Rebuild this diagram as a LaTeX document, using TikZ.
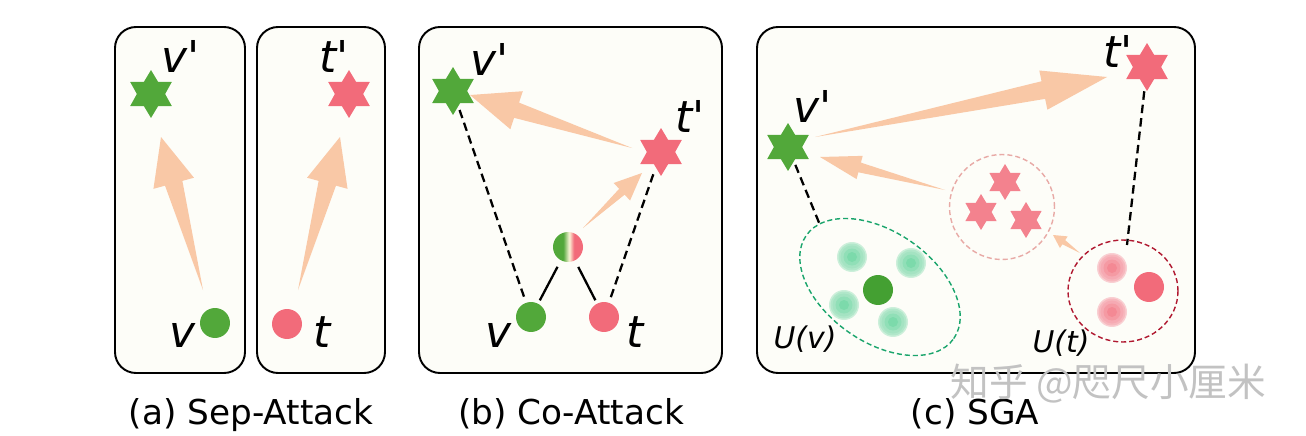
\documentclass[tikz,border=0pt]{standalone}
\usepackage{fontspec}
\setmainfont{DejaVu Sans}
\newfontfamily\cjk{Noto Sans CJK SC}
\usetikzlibrary{calc,shapes.geometric}
\definecolor{gr}{HTML}{52A83A}
\definecolor{dgr}{HTML}{44A032}
\definecolor{pk}{HTML}{F26B7A}
\definecolor{lpk}{HTML}{F3828E}
\definecolor{arc}{HTML}{F9C8A6}
\definecolor{bg}{HTML}{FDFDF8}
\definecolor{mixw}{HTML}{FBF6D8}
\definecolor{softgc}{HTML}{62D49C}
\definecolor{softgo}{HTML}{A4E3C2}
\definecolor{softrc}{HTML}{F3737F}
\definecolor{softro}{HTML}{F6AAB3}
\definecolor{gell}{HTML}{1AA56C}
\definecolor{rell}{HTML}{B01830}
\definecolor{pell}{HTML}{E8AAA6}
\pgfdeclarehorizontalshading{mixsh}{100bp}{color(0bp)=(gr); color(42bp)=(gr); color(52bp)=(mixw); color(60bp)=(pk); color(100bp)=(pk)}
\newcommand\fatarrow[5]{%
  \coordinate (fah) at ($(#2)!#5!(#1)$);
  \fill[arc] (#1) -- ($(fah)!#3!90:(#2)$) -- ($(fah)!#4!90:(#2)$) -- (#2)
    -- ($(fah)!#4!-90:(#2)$) -- ($(fah)!#3!-90:(#2)$) -- cycle;}
% soft (blurred) dot: name, position, centre colour, outer colour
\newcommand\softdot[4]{%
  \node[dot, fill=#4!55!bg] (#1) at (#2) {};
  \fill[#4!85!bg] (#1) circle[radius=13.5];
  \fill[#4] (#1) circle[radius=11.5];
  \fill[#4!70!#3] (#1) circle[radius=8.5];
  \fill[#4!40!#3] (#1) circle[radius=5];}
\tikzset{
  panel/.style={draw=black, line width=1.1pt, fill=bg, rounded corners=0.42cm},
  gstar/.style={star, star points=6, star point ratio=1.7, fill=gr, minimum size=0.96cm, inner sep=0pt},
  pstar/.style={star, star points=6, star point ratio=1.7, fill=pk, minimum size=0.96cm, inner sep=0pt},
  sstar/.style={star, star points=6, star point ratio=1.7, fill=lpk, minimum size=0.72cm, inner sep=0pt},
  dot/.style={circle, minimum size=0.6cm, inner sep=0pt},
  lbl/.style={font=\fontsize{25}{25}\selectfont\itshape, inner sep=0pt, anchor=base},
  ulbl/.style={font=\fontsize{17}{17}\selectfont\itshape, inner sep=0pt, anchor=base},
  captxt/.style={font=\fontsize{19.5}{20}\selectfont, inner sep=0pt, anchor=base},
  dashln/.style={line width=1.3pt, dash pattern=on 0.17cm off 0.1cm},
  solidln/.style={line width=1.3pt},
  elldash/.style={line width=0.8pt, dash pattern=on 0.1cm off 0.06cm, ellipse, inner sep=0pt},
}
\begin{document}
\begin{tikzpicture}[x=0.02cm,y=-0.02cm]
\useasboundingbox[fill=white] (0,0) rectangle (1306,436);
% panels
\draw[panel] (115,27) rectangle (245,373);
\draw[panel] (257,27) rectangle (385,373);
\draw[panel] (419,27) rectangle (722,373);
\draw[panel] (757,27) rectangle (1195,373);
% ---------- (a)
\coordinate (a1t) at (203,290); \coordinate (a1h) at (161,137);
\coordinate (a2t) at (298,290); \coordinate (a2h) at (340,137);
\fatarrow{a1t}{a1h}{0.18cm}{0.42cm}{0.96cm}
\fatarrow{a2t}{a2h}{0.18cm}{0.42cm}{0.96cm}
\node[gstar] (vs1) at (151,94) {};
\node[pstar] (ts1) at (349,94) {};
\node[dot, fill=gr] (vd1) at (215,323) {};
\node[dot, fill=pk] (td1) at (287,324) {};
\node[lbl] (lv1p) at (181,72) {v\textquotesingle};
\node[lbl] (lt1p) at (334,72) {t\textquotesingle};
\node[lbl] (lv1) at (182,347) {v};
\node[lbl] (lt1) at (322,347) {t};
% ---------- (b)
\coordinate (b1t) at (632,148); \coordinate (b1h) at (470,95);
\coordinate (b2t) at (583,228); \coordinate (b2h) at (642,173);
\fatarrow{b1t}{b1h}{0.16cm}{0.4cm}{0.98cm}
\fatarrow{b2t}{b2h}{0.08cm}{0.24cm}{0.55cm}
\node[gstar] (vs2) at (453,91) {};
\node[pstar] (ts2) at (661,152) {};
\node[dot, shade, shading=mixsh] (m2) at (568,247) {};
\node[dot, fill=gr] (vd2) at (531,317) {};
\node[dot, fill=pk] (td2) at (604,317) {};
\draw[dashln, shorten <=2pt, shorten >=2pt] (vs2) -- (vd2);
\draw[dashln, shorten <=4pt, shorten >=2pt] (ts2) -- (td2);
\draw[solidln, shorten <=4pt, shorten >=2pt] (m2) -- (vd2);
\draw[solidln, shorten <=4pt, shorten >=2pt] (m2) -- (td2);
\node[lbl] (lv2p) at (490,75) {v\textquotesingle};
\node[lbl] (lt2p) at (690,132) {t\textquotesingle};
\node[lbl] (lv2) at (498,347) {v};
\node[lbl] (lt2) at (635,347) {t};
% ---------- (c)
\coordinate (c1t) at (815,137); \coordinate (c1h) at (1107,77);
\coordinate (c2t) at (945,190); \coordinate (c2h) at (820,157);
\coordinate (c3t) at (1080,253); \coordinate (c3h) at (1053,235);
\fatarrow{c1t}{c1h}{0.18cm}{0.4cm}{1.3cm}
\fatarrow{c2t}{c2h}{0.1cm}{0.24cm}{0.82cm}
\fatarrow{c3t}{c3h}{0.05cm}{0.14cm}{0.26cm}
\node[gstar] (vs3) at (788,147) {};
\node[pstar] (ts3) at (1147,67) {};
\node[elldash, draw=pell, circle, minimum size=2.1cm] (pc) at (1002,207) {};
\node[sstar] (s1) at (1005,182) {};
\node[sstar] (s2) at (981,212) {};
\node[sstar] (s3) at (1026,220) {};
\node[elldash, draw=gell, minimum width=3.6cm, minimum height=2.2cm, rotate=-35] (uv) at (880,287) {};
\softdot{g1}{852,257}{softgc}{softgo}
\softdot{g2}{911,263}{softgc}{softgo}
\softdot{g3}{844,305}{softgc}{softgo}
\softdot{g4}{893,322}{softgc}{softgo}
\node[dot, fill=dgr] (vd3) at (878,290) {};
\node[elldash, draw=rell, minimum width=2.2cm, minimum height=2.04cm] (ut) at (1123,291) {};
\softdot{r1}{1112,268}{softrc}{softro}
\softdot{r2}{1112,312}{softrc}{softro}
\node[dot, fill=pk] (td3) at (1149,287) {};
\coordinate (uvtop) at (820,225);
\coordinate (uttop) at (1127,245);
\draw[dashln, shorten <=2pt] (vs3) -- (uvtop);
\draw[dashln, shorten <=2pt] (ts3) -- (uttop);
\node[lbl] (lv3p) at (813,122) {v\textquotesingle};
\node[lbl] (lt3p) at (1118,67) {t\textquotesingle};
\node[ulbl] (luv) at (805,348) {U(v)};
\node[ulbl] (lut) at (1061,352) {U(t)};
% captions
\node[captxt] (capa) at (251,424) {(a) Sep-Attack};
\node[captxt] (capb) at (571,424) {(b) Co-Attack};
\node[captxt] (capc) at (975,424) {(c) SGA};
\node[font=\cjk\fontsize{22}{22}\selectfont, text=black!24, inner sep=0pt, anchor=base west] (wm) at (950,396) {知乎 @咫尺小厘米};
\end{tikzpicture}
\end{document}
